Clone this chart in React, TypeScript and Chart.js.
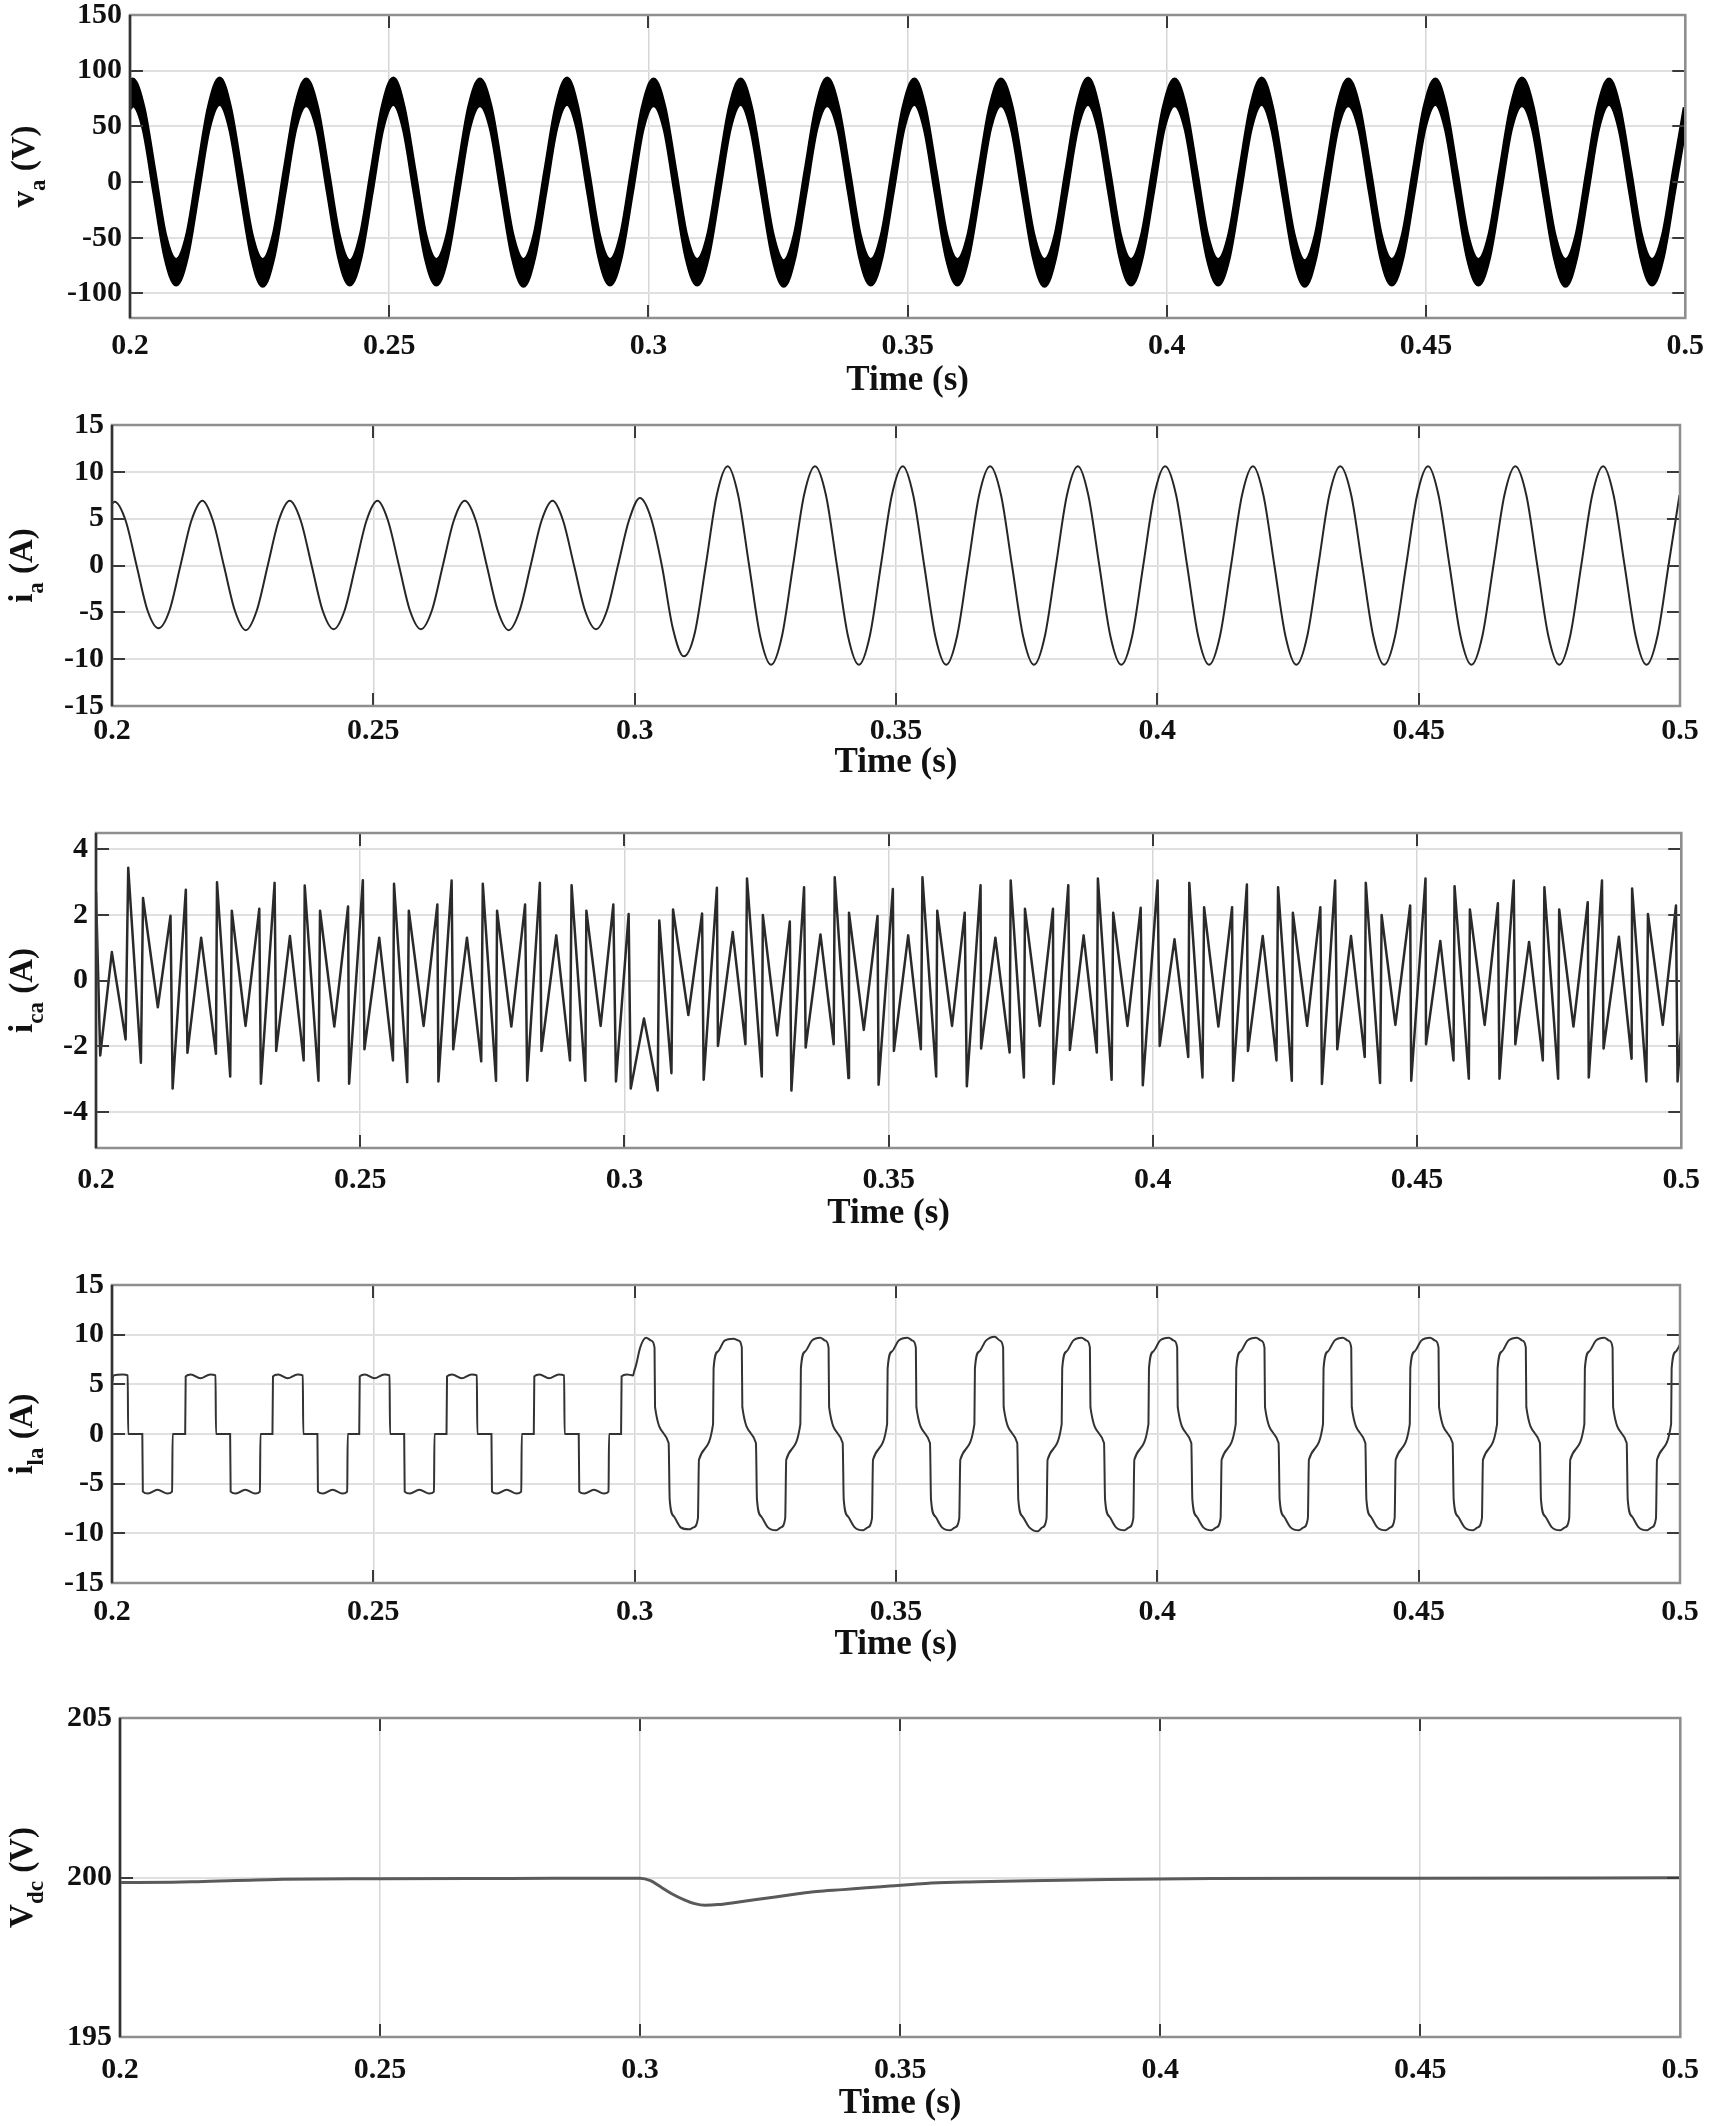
import React, { useEffect, useRef } from "react";
import { Chart, registerables } from "chart.js";

Chart.register(...registerables);

// ---------------- shared axis data ----------------
const X_TICKS = [0.2, 0.25, 0.3, 0.35, 0.4, 0.45, 0.5];
const X_TICK_LABELS = ["0.2", "0.25", "0.3", "0.35", "0.4", "0.45", "0.5"];
const X_TITLE = "Time (s)";

const VA_TICKS = [-100, -50, 0, 50, 100, 150];
const IA_TICKS = [-15, -10, -5, 0, 5, 10, 15];
const ICA_TICKS = [-4, -2, 0, 2, 4];
const ILA_TICKS = [-15, -10, -5, 0, 5, 10, 15];
const VDC_TICKS = [195, 200, 205];

// ---------------- v_a and i_a (common time samples, s) ----------------
const T_GRID = [0.2000,
  0.2005, 0.2026, 0.2047, 0.2068, 0.2089, 0.2110, 0.2131, 0.2152,
  0.2173, 0.2193, 0.2214, 0.2235, 0.2256, 0.2277, 0.2298, 0.2319,
  0.2340, 0.2361, 0.2382, 0.2403, 0.2424, 0.2445, 0.2466, 0.2487,
  0.2508, 0.2528, 0.2549, 0.2570, 0.2591, 0.2612, 0.2633, 0.2654,
  0.2675, 0.2696, 0.2717, 0.2738, 0.2759, 0.2780, 0.2801, 0.2822,
  0.2843, 0.2863, 0.2884, 0.2905, 0.2926, 0.2947, 0.2968, 0.2989,
  0.3010, 0.3031, 0.3052, 0.3073, 0.3094, 0.3115, 0.3136, 0.3157,
  0.3178, 0.3198, 0.3219, 0.3240, 0.3261, 0.3282, 0.3303, 0.3324,
  0.3345, 0.3366, 0.3387, 0.3408, 0.3429, 0.3450, 0.3471, 0.3492,
  0.3513, 0.3533, 0.3554, 0.3575, 0.3596, 0.3617, 0.3638, 0.3659,
  0.3680, 0.3701, 0.3722, 0.3743, 0.3764, 0.3785, 0.3806, 0.3827,
  0.3848, 0.3868, 0.3889, 0.3910, 0.3931, 0.3952, 0.3973, 0.3994,
  0.4015, 0.4036, 0.4057, 0.4078, 0.4099, 0.4120, 0.4141, 0.4162,
  0.4183, 0.4203, 0.4224, 0.4245, 0.4266, 0.4287, 0.4308, 0.4329,
  0.4350, 0.4371, 0.4392, 0.4413, 0.4434, 0.4455, 0.4476, 0.4497,
  0.4518, 0.4538, 0.4559, 0.4580, 0.4601, 0.4622, 0.4643, 0.4664,
  0.4685, 0.4706, 0.4727, 0.4748, 0.4769, 0.4790, 0.4811, 0.4832,
  0.4853, 0.4873, 0.4894, 0.4915, 0.4936, 0.4957, 0.4978, 0.4999];

// upper / lower edge of the noisy v_a band (V)
const VA_UPPER = [90,
  92, 67, 10, -48, -70, -48, 10, 67,
  93, 67, 10, -48, -70, -48, 10, 67,
  92, 67, 10, -48, -71, -48, 10, 67,
  93, 67, 10, -48, -70, -48, 10, 67,
  92, 67, 10, -48, -70, -48, 10, 67,
  93, 67, 10, -48, -70, -48, 10, 67,
  92, 67, 10, -48, -70, -48, 10, 67,
  92, 67, 10, -48, -71, -48, 10, 67,
  93, 67, 10, -48, -70, -48, 10, 67,
  92, 67, 10, -48, -70, -48, 10, 67,
  92, 67, 10, -48, -70, -48, 10, 67,
  93, 67, 10, -48, -70, -48, 10, 67,
  92, 67, 10, -48, -70, -48, 10, 67,
  93, 67, 10, -48, -71, -48, 10, 67,
  92, 67, 10, -48, -70, -48, 10, 67,
  92, 67, 10, -48, -70, -48, 10, 67,
  93, 67, 10, -48, -70, -48, 10, 67,
  92, 67, 10, -48, -70, -48, 10, 67];
const VA_LOWER = [66,
  69, 48, -10, -67, -92, -67, -10, 48,
  70, 48, -10, -67, -93, -67, -10, 48,
  69, 48, -10, -67, -92, -67, -10, 48,
  70, 48, -10, -67, -92, -67, -10, 48,
  69, 48, -10, -67, -93, -67, -10, 48,
  70, 48, -10, -67, -92, -67, -10, 48,
  69, 48, -10, -67, -92, -67, -10, 48,
  70, 48, -10, -67, -93, -67, -10, 48,
  69, 48, -10, -67, -92, -67, -10, 48,
  70, 48, -10, -67, -92, -67, -10, 48,
  69, 48, -10, -67, -93, -67, -10, 48,
  70, 48, -10, -67, -92, -67, -10, 48,
  69, 48, -10, -67, -92, -67, -10, 48,
  70, 48, -10, -67, -93, -67, -10, 48,
  69, 48, -10, -67, -92, -67, -10, 48,
  70, 48, -10, -67, -92, -67, -10, 48,
  69, 48, -10, -67, -93, -67, -10, 48,
  70, 48, -10, -67, -92, -67, -10, 48];

// source current i_a (A)
const IA_VALUES = [6.6,
  6.8, 4.8, 0, -4.8, -6.7, -4.8, 0, 4.8,
  6.9, 4.8, 0, -4.8, -6.9, -4.8, 0, 4.8,
  6.9, 4.8, 0, -4.8, -6.8, -4.8, 0, 4.8,
  6.9, 4.8, 0, -4.8, -6.8, -4.8, 0, 4.8,
  6.9, 4.8, 0, -4.8, -6.9, -4.8, 0, 4.8,
  6.9, 4.8, 0, -4.8, -6.8, -4.8, 0, 4.8,
  7.2, 5.1, 0, -6.7, -9.7, -7.2, 0, 7.5,
  10.6, 7.5, 0, -7.5, -10.6, -7.5, 0, 7.5,
  10.6, 7.5, 0, -7.5, -10.6, -7.5, 0, 7.5,
  10.6, 7.5, 0, -7.5, -10.6, -7.5, 0, 7.5,
  10.6, 7.5, 0, -7.5, -10.6, -7.5, 0, 7.5,
  10.6, 7.5, 0, -7.5, -10.6, -7.5, 0, 7.5,
  10.6, 7.5, 0, -7.5, -10.6, -7.5, 0, 7.5,
  10.6, 7.5, 0, -7.5, -10.6, -7.5, 0, 7.5,
  10.6, 7.5, 0, -7.5, -10.6, -7.5, 0, 7.5,
  10.6, 7.5, 0, -7.5, -10.6, -7.5, 0, 7.5,
  10.6, 7.5, 0, -7.5, -10.6, -7.5, 0, 7.5,
  10.6, 7.5, 0, -7.5, -10.6, -7.5, 0, 7.5];

// ---------------- compensator current i_ca: [time (s), current (A)] ----------------
const ICA_POINTS = [
  [0.2000, 2.7], [0.2008, -2.28], [0.2030, 0.87], [0.2056, -1.79], [0.2061, 3.44], [0.2085, -2.5], [0.2089, 2.52], [0.2117, -0.81], [0.2141, 1.98], [0.2145, -3.29],
  [0.2170, 2.77], [0.2173, -2.2], [0.2199, 1.31], [0.2227, -2.23], [0.2229, 3.0], [0.2254, -2.92], [0.2257, 2.13], [0.2283, -1.38], [0.2309, 2.19], [0.2312, -3.14],
  [0.2338, 2.98], [0.2341, -2.14], [0.2367, 1.36], [0.2393, -2.43], [0.2395, 2.9], [0.2421, -3.05], [0.2424, 2.13], [0.2451, -1.4], [0.2477, 2.26], [0.2479, -3.14],
  [0.2505, 3.06], [0.2508, -2.09], [0.2536, 1.31], [0.2562, -2.43], [0.2564, 2.95], [0.2589, -3.09], [0.2592, 2.13], [0.2620, -1.38], [0.2646, 2.32], [0.2648, -3.07],
  [0.2673, 3.05], [0.2676, -2.09], [0.2702, 1.31], [0.2729, -2.46], [0.2732, 2.95], [0.2757, -3.05], [0.2759, 2.13], [0.2786, -1.4], [0.2812, 2.32], [0.2816, -3.05],
  [0.2840, 2.98], [0.2843, -2.14], [0.2871, 1.38], [0.2897, -2.43], [0.2900, 2.91], [0.2926, -3.05], [0.2928, 2.13], [0.2955, -1.38], [0.2979, 2.32], [0.2984, -3.07],
  [0.3008, 2.03], [0.3012, -3.29], [0.3037, -1.15], [0.3063, -3.35], [0.3066, 1.83], [0.3089, -2.82], [0.3092, 2.17], [0.3121, -1.05], [0.3147, 2.05], [0.3150, -3.02],
  [0.3175, 2.83], [0.3177, -1.99], [0.3205, 1.48], [0.3229, -1.94], [0.3232, 3.11], [0.3260, -2.92], [0.3262, 2.0], [0.3289, -1.67], [0.3313, 1.8], [0.3316, -3.35],
  [0.3340, 2.85], [0.3343, -2.04], [0.3371, 1.41], [0.3396, -1.94], [0.3398, 3.15], [0.3424, -2.97], [0.3425, 2.07], [0.3453, -1.5], [0.3479, 1.97], [0.3481, -3.17],
  [0.3508, 2.79], [0.3510, -2.14], [0.3537, 1.38], [0.3561, -2.09], [0.3564, 3.15], [0.3590, -2.92], [0.3592, 2.13], [0.3620, -1.38], [0.3644, 2.07], [0.3648, -3.22],
  [0.3674, 2.91], [0.3675, -2.07], [0.3702, 1.31], [0.3729, -2.19], [0.3731, 3.05], [0.3756, -2.95], [0.3758, 2.19], [0.3786, -1.38], [0.3811, 2.19], [0.3812, -3.15],
  [0.3840, 2.91], [0.3843, -2.11], [0.3869, 1.38], [0.3894, -2.19], [0.3896, 3.11], [0.3922, -3.02], [0.3925, 2.07], [0.3952, -1.38], [0.3977, 2.22], [0.3981, -3.19],
  [0.4009, 3.05], [0.4013, -1.99], [0.4041, 1.26], [0.4067, -2.33], [0.4069, 2.98], [0.4094, -2.95], [0.4097, 2.24], [0.4124, -1.4], [0.4150, 2.24], [0.4152, -3.05],
  [0.4178, 2.93], [0.4180, -2.14], [0.4208, 1.36], [0.4234, -2.43], [0.4237, 2.85], [0.4263, -3.05], [0.4265, 2.07], [0.4292, -1.38], [0.4317, 2.24], [0.4320, -3.15],
  [0.4345, 3.05], [0.4349, -2.09], [0.4375, 1.36], [0.4401, -2.33], [0.4403, 2.98], [0.4430, -3.12], [0.4433, 2.0], [0.4459, -1.35], [0.4487, 2.29], [0.4489, -3.05],
  [0.4516, 3.11], [0.4517, -1.94], [0.4544, 1.21], [0.4569, -2.43], [0.4571, 2.88], [0.4598, -2.99], [0.4600, 2.17], [0.4628, -1.35], [0.4653, 2.36], [0.4656, -2.99],
  [0.4683, 3.05], [0.4686, -1.94], [0.4712, 1.18], [0.4738, -2.43], [0.4741, 2.85], [0.4767, -2.99], [0.4769, 2.17], [0.4796, -1.4], [0.4823, 2.39], [0.4825, -2.95],
  [0.4850, 3.05], [0.4853, -2.07], [0.4882, 1.34], [0.4906, -2.38], [0.4907, 2.81], [0.4934, -3.07], [0.4937, 2.03], [0.4965, -1.35], [0.4990, 2.29], [0.4993, -3.07],
  [0.5000, -1.5],
];

// ---------------- load current i_la: [time (s), current (A)] ----------------
const ILA_BEFORE = [
  [0.2000, 5.0], [0.2003, 5.9], [0.2021, 6.0], [0.2030, 5.9], [0.2031, 0], [0.2058, 0], [0.2059, -5.8], [0.2069, -6.0], [0.2087, -5.6], [0.2106, -6.0], [0.2115, -5.8], [0.2116, 0],
  [0.2140, 0], [0.2141, 5.8], [0.2151, 6.0], [0.2169, 5.6], [0.2188, 6.0], [0.2198, 5.9], [0.2199, 0], [0.2226, 0], [0.2227, -5.8], [0.2237, -6.0], [0.2255, -5.6], [0.2274, -6.0], [0.2283, -5.8], [0.2284, 0],
  [0.2307, 0], [0.2308, 5.8], [0.2318, 6.0], [0.2336, 5.6], [0.2355, 6.0], [0.2365, 5.9], [0.2366, 0], [0.2393, 0], [0.2394, -5.8], [0.2404, -6.0], [0.2422, -5.6], [0.2441, -6.0], [0.2450, -5.8], [0.2451, 0],
  [0.2473, 0], [0.2474, 5.8], [0.2484, 6.0], [0.2502, 5.6], [0.2521, 6.0], [0.2531, 5.9], [0.2532, 0], [0.2559, 0], [0.2560, -5.8], [0.2570, -6.0], [0.2588, -5.6], [0.2607, -6.0], [0.2616, -5.8], [0.2617, 0],
  [0.2640, 0], [0.2641, 5.8], [0.2651, 6.0], [0.2669, 5.6], [0.2688, 6.0], [0.2698, 5.9], [0.2699, 0], [0.2726, 0], [0.2727, -5.8], [0.2737, -6.0], [0.2755, -5.6], [0.2774, -6.0], [0.2783, -5.8], [0.2784, 0],
  [0.2807, 0], [0.2808, 5.8], [0.2818, 6.0], [0.2836, 5.6], [0.2855, 6.0], [0.2865, 5.9], [0.2866, 0], [0.2893, 0], [0.2894, -5.8], [0.2904, -6.0], [0.2922, -5.6], [0.2941, -6.0], [0.2950, -5.8], [0.2951, 0],
  [0.2974, 0], [0.2975, 5.8], [0.2985, 6.0], [0.2997, 5.9], [0.2999, 6.3], [0.3003, 7.0], [0.3010, 8.6], [0.3016, 9.4],
];
const ILA_AFTER = [
  [0.3022, 9.7], [0.3032, 9.4], [0.3038, 8.7], [0.3039, 2.7], [0.3065, -0.9], [0.3067, -6.6], [0.3075, -8.3], [0.3088, -9.4], [0.3104, -9.6], [0.3113, -9.4], [0.3121, -8.5], [0.3123, -2.6], [0.3150, 1.0], [0.3151, 6.6], [0.3159, 8.3], [0.3172, 9.4],
  [0.3189, 9.6], [0.3199, 9.4], [0.3205, 8.7], [0.3206, 2.7], [0.3232, -0.9], [0.3234, -6.6], [0.3242, -8.3], [0.3255, -9.4], [0.3271, -9.7], [0.3280, -9.4], [0.3288, -8.5], [0.3290, -2.6], [0.3317, 1.0], [0.3318, 6.6], [0.3326, 8.3], [0.3339, 9.4],
  [0.3355, 9.7], [0.3365, 9.4], [0.3371, 8.7], [0.3372, 2.7], [0.3398, -0.9], [0.3400, -6.6], [0.3408, -8.3], [0.3421, -9.4], [0.3437, -9.7], [0.3446, -9.4], [0.3454, -8.5], [0.3456, -2.6], [0.3483, 1.0], [0.3484, 6.6], [0.3492, 8.3], [0.3505, 9.4],
  [0.3522, 9.7], [0.3532, 9.4], [0.3538, 8.7], [0.3539, 2.7], [0.3565, -0.9], [0.3567, -6.6], [0.3575, -8.3], [0.3588, -9.4], [0.3604, -9.7], [0.3613, -9.4], [0.3621, -8.5], [0.3623, -2.6], [0.3650, 1.0], [0.3651, 6.6], [0.3659, 8.3], [0.3672, 9.4],
  [0.3689, 9.8], [0.3699, 9.4], [0.3705, 8.7], [0.3706, 2.7], [0.3732, -0.9], [0.3734, -6.6], [0.3742, -8.3], [0.3755, -9.4], [0.3771, -9.8], [0.3780, -9.4], [0.3788, -8.5], [0.3790, -2.6], [0.3817, 1.0], [0.3818, 6.6], [0.3826, 8.3], [0.3839, 9.4],
  [0.3855, 9.7], [0.3865, 9.4], [0.3871, 8.7], [0.3872, 2.7], [0.3898, -0.9], [0.3900, -6.6], [0.3908, -8.3], [0.3921, -9.4], [0.3937, -9.7], [0.3946, -9.4], [0.3954, -8.5], [0.3956, -2.6], [0.3983, 1.0], [0.3984, 6.6], [0.3992, 8.3], [0.4005, 9.4],
  [0.4022, 9.7], [0.4032, 9.4], [0.4038, 8.7], [0.4039, 2.7], [0.4065, -0.9], [0.4067, -6.6], [0.4075, -8.3], [0.4088, -9.4], [0.4104, -9.7], [0.4113, -9.4], [0.4121, -8.5], [0.4123, -2.6], [0.4150, 1.0], [0.4151, 6.6], [0.4159, 8.3], [0.4172, 9.4],
  [0.4189, 9.7], [0.4199, 9.4], [0.4205, 8.7], [0.4206, 2.7], [0.4232, -0.9], [0.4234, -6.6], [0.4242, -8.3], [0.4255, -9.4], [0.4271, -9.7], [0.4280, -9.4], [0.4288, -8.5], [0.4290, -2.6], [0.4317, 1.0], [0.4318, 6.6], [0.4326, 8.3], [0.4339, 9.4],
  [0.4355, 9.7], [0.4365, 9.4], [0.4371, 8.7], [0.4372, 2.7], [0.4398, -0.9], [0.4400, -6.6], [0.4408, -8.3], [0.4421, -9.4], [0.4437, -9.7], [0.4446, -9.4], [0.4454, -8.5], [0.4456, -2.6], [0.4483, 1.0], [0.4484, 6.6], [0.4492, 8.3], [0.4505, 9.4],
  [0.4522, 9.7], [0.4532, 9.4], [0.4538, 8.7], [0.4539, 2.7], [0.4565, -0.9], [0.4567, -6.6], [0.4575, -8.3], [0.4588, -9.4], [0.4604, -9.7], [0.4613, -9.4], [0.4621, -8.5], [0.4623, -2.6], [0.4650, 1.0], [0.4651, 6.6], [0.4659, 8.3], [0.4672, 9.4],
  [0.4689, 9.7], [0.4699, 9.4], [0.4705, 8.7], [0.4706, 2.7], [0.4732, -0.9], [0.4734, -6.6], [0.4742, -8.3], [0.4755, -9.4], [0.4771, -9.7], [0.4780, -9.4], [0.4788, -8.5], [0.4790, -2.6], [0.4817, 1.0], [0.4818, 6.6], [0.4826, 8.3], [0.4839, 9.4],
  [0.4855, 9.7], [0.4865, 9.4], [0.4871, 8.7], [0.4872, 2.7], [0.4898, -0.9], [0.4900, -6.6], [0.4908, -8.3], [0.4921, -9.4], [0.4937, -9.7], [0.4946, -9.4], [0.4954, -8.5], [0.4956, -2.6], [0.4983, 1.0], [0.4984, 6.6], [0.4992, 8.3], [0.5000, 9.0],
];

// ---------------- DC link voltage V_dc: [time (s), voltage (V)] ----------------
const VDC_POINTS = [
  [0.2000, 199.84], [0.2100, 199.85], [0.2150, 199.87], [0.2300, 199.94], [0.2500, 199.96], [0.2750, 199.97],
  [0.3000, 199.98], [0.3020, 199.90], [0.3040, 199.70], [0.3060, 199.50], [0.3085, 199.30], [0.3105, 199.18],
  [0.3125, 199.13], [0.3150, 199.15], [0.3180, 199.21], [0.3220, 199.30], [0.3260, 199.39], [0.3300, 199.48],
  [0.3340, 199.56], [0.3390, 199.62], [0.3435, 199.68], [0.3480, 199.73], [0.3515, 199.77], [0.3560, 199.83],
  [0.3650, 199.87], [0.3750, 199.90], [0.3900, 199.94], [0.4100, 199.97], [0.4500, 199.98], [0.5000, 199.99],
];

// ---------------- styling ----------------
const FONT = '"Liberation Serif", "Times New Roman", "DejaVu Serif", serif';
const PAGE_W = 1714;
const TICK_SIZE = 30;
const XTITLE_SIZE = 35;

type YTitle = { main: string; sub: string; unit: string };

const framePlugin = {
  id: "frame",
  afterDraw(chart: any, _args: any, opts: any) {
    const { ctx, chartArea: a, scales } = chart;
    const xs = scales.x;
    const ys = scales.y;
    ctx.save();
    // inward tick marks
    ctx.strokeStyle = "#3a3a3a";
    ctx.lineWidth = 2;
    const TL = 13;
    ctx.beginPath();
    for (const t of xs.ticks) {
      const px = Math.round(xs.getPixelForValue(t.value));
      ctx.moveTo(px, a.bottom);
      ctx.lineTo(px, a.bottom - TL);
      ctx.moveTo(px, a.top);
      ctx.lineTo(px, a.top + TL);
    }
    for (const t of ys.ticks) {
      const py = Math.round(ys.getPixelForValue(t.value));
      ctx.moveTo(a.left, py);
      ctx.lineTo(a.left + TL, py);
      ctx.moveTo(a.right, py);
      ctx.lineTo(a.right - TL, py);
    }
    ctx.stroke();
    // box
    ctx.strokeStyle = "#8e8e8e";
    ctx.lineWidth = 2.5;
    ctx.strokeRect(a.left, a.top, a.right - a.left, a.bottom - a.top);
    ctx.strokeStyle = "#333";
    ctx.beginPath();
    ctx.moveTo(a.left, a.top);
    ctx.lineTo(a.left, a.bottom);
    ctx.stroke();
    // rotated y title with subscript
    const yt: YTitle = opts.title;
    const mainFont = `bold 33px ${FONT}`;
    const subFont = `bold 23px ${FONT}`;
    ctx.translate(opts.titleX, (a.top + a.bottom) / 2);
    ctx.rotate(-Math.PI / 2);
    ctx.fillStyle = "#111";
    ctx.textAlign = "left";
    ctx.textBaseline = "alphabetic";
    ctx.font = mainFont;
    const wm = ctx.measureText(yt.main).width;
    const wu = ctx.measureText(yt.unit).width;
    ctx.font = subFont;
    const ws = ctx.measureText(yt.sub).width;
    const start = -(wm + ws + wu) / 2;
    ctx.font = mainFont;
    ctx.fillText(yt.main, start, 0);
    ctx.font = subFont;
    ctx.fillText(yt.sub, start + wm, 11);
    ctx.font = mainFont;
    ctx.fillText(yt.unit, start + wm + ws, 0);
    ctx.restore();
  },
};

type PanelProps = {
  plotTop: number;
  plotBottom: number;
  plotLeft: number;
  plotRight: number;
  timeY: number;
  tickPad: number;
  titleX: number;
  yMin: number;
  yMax: number;
  yTicks: number[];
  yTitle: YTitle;
  datasets: any[];
};

function Panel(p: PanelProps) {
  const ref = useRef<HTMLCanvasElement | null>(null);
  const padTop = 22;
  const canvasTop = p.plotTop - padTop;
  const canvasBottom = p.timeY + Math.round(XTITLE_SIZE * 0.6);
  const height = canvasBottom - canvasTop;
  const xAxisH = canvasBottom - p.plotBottom;

  useEffect(() => {
    if (!ref.current) return;
    const chart = new Chart(ref.current, {
      type: "line",
      data: { datasets: p.datasets },
      plugins: [framePlugin as any],
      options: {
        animation: false,
        responsive: false,
        devicePixelRatio: 1,
        layout: { padding: { top: padTop, right: PAGE_W - p.plotRight, left: 0, bottom: 0 } },
        elements: { point: { radius: 0 } },
        plugins: {
          legend: { display: false },
          tooltip: { enabled: false },
          frame: { title: p.yTitle, titleX: p.titleX },
        } as any,
        scales: {
          x: {
            type: "linear",
            min: 0.2,
            max: 0.5,
            afterBuildTicks: (s: any) => {
              s.ticks = X_TICKS.map((v) => ({ value: v }));
            },
            afterFit: (s: any) => {
              s.height = xAxisH;
            },
            ticks: {
              callback: (_v: any, i: number) => X_TICK_LABELS[i],
              font: { family: FONT, size: TICK_SIZE, weight: "bold" },
              color: "#111",
              padding: p.tickPad,
              maxRotation: 0,
              autoSkip: false,
            },
            grid: { color: "#d6d6d6", lineWidth: 1.5, drawTicks: false },
            border: { display: false },
            title: {
              display: true,
              text: X_TITLE,
              font: { family: FONT, size: XTITLE_SIZE, weight: "bold", lineHeight: 1.2 },
              color: "#111",
              padding: 0,
            },
          },
          y: {
            type: "linear",
            min: p.yMin,
            max: p.yMax,
            afterBuildTicks: (s: any) => {
              s.ticks = p.yTicks.map((v) => ({ value: v }));
            },
            afterFit: (s: any) => {
              s.width = p.plotLeft;
            },
            ticks: {
              callback: (v: any) => String(v),
              font: { family: FONT, size: TICK_SIZE, weight: "bold" },
              color: "#111",
              padding: 8,
            },
            grid: { color: "#e0e0e0", lineWidth: 2, drawTicks: false },
            border: { display: false },
          },
        },
      } as any,
    });
    return () => chart.destroy();
  }, []);

  return (
    <div style={{ position: "absolute", left: 0, top: canvasTop, width: PAGE_W, height }}>
      <canvas ref={ref} width={PAGE_W} height={height} style={{ width: PAGE_W, height, display: "block" }} />
    </div>
  );
}

const toXY = (pairs: number[][]) => pairs.map(([x, y]) => ({ x, y }));
const gridXY = (vals: number[]) => vals.map((y, i) => ({ x: T_GRID[i], y }));

export default function App() {
  const vaSets = [
    {
      data: gridXY(VA_UPPER),
      borderColor: "#000",
      borderWidth: 4,
      backgroundColor: "#000",
      fill: "+1",
      cubicInterpolationMode: "monotone",
      pointRadius: 0,
    },
    {
      data: gridXY(VA_LOWER),
      borderColor: "#000",
      borderWidth: 4,
      fill: false,
      cubicInterpolationMode: "monotone",
      pointRadius: 0,
    },
  ];
  const iaSets = [
    {
      data: gridXY(IA_VALUES),
      borderColor: "#262626",
      borderWidth: 2,
      fill: false,
      cubicInterpolationMode: "monotone",
      pointRadius: 0,
    },
  ];
  const icaSets = [
    {
      data: toXY(ICA_POINTS),
      borderColor: "#2a2a2a",
      borderWidth: 2.5,
      borderJoinStyle: "round",
      fill: false,
      tension: 0,
      pointRadius: 0,
    },
  ];
  const ilaSets = [
    {
      data: toXY([...ILA_BEFORE, ...ILA_AFTER]),
      borderColor: "#333",
      borderWidth: 2,
      fill: false,
      cubicInterpolationMode: "monotone",
      pointRadius: 0,
    },
  ];
  const vdcSets = [
    {
      data: toXY(VDC_POINTS),
      borderColor: "#5a5a5a",
      borderWidth: 3,
      fill: false,
      cubicInterpolationMode: "monotone",
      pointRadius: 0,
    },
  ];

  return (
    <div style={{ position: "absolute", left: 0, top: 0, width: PAGE_W, height: 2126, background: "#fff", overflow: "hidden" }}>
      <Panel plotTop={11} plotBottom={318} plotLeft={130} plotRight={1690} timeY={381} tickPad={10} titleX={34}
        yMin={-122} yMax={150} yTicks={VA_TICKS} yTitle={{ main: "v", sub: "a", unit: " (V)" }} datasets={vaSets} />
      <Panel plotTop={421} plotBottom={706} plotLeft={112} plotRight={1680} timeY={763} tickPad={7} titleX={32}
        yMin={-15} yMax={15} yTicks={IA_TICKS} yTitle={{ main: "i", sub: "a", unit: " (A)" }} datasets={iaSets} />
      <Panel plotTop={829} plotBottom={1148} plotLeft={96} plotRight={1690} timeY={1214} tickPad={14} titleX={32}
        yMin={-5.1} yMax={4.5} yTicks={ICA_TICKS} yTitle={{ main: "i", sub: "ca", unit: " (A)" }} datasets={icaSets} />
      <Panel plotTop={1281} plotBottom={1583} plotLeft={112} plotRight={1680} timeY={1645} tickPad={11} titleX={32}
        yMin={-15} yMax={15} yTicks={ILA_TICKS} yTitle={{ main: "i", sub: "la", unit: " (A)" }} datasets={ilaSets} />
      <Panel plotTop={1714} plotBottom={2037} plotLeft={120} plotRight={1690} timeY={2104} tickPad={15} titleX={32}
        yMin={195} yMax={205} yTicks={VDC_TICKS} yTitle={{ main: "V", sub: "dc", unit: " (V)" }} datasets={vdcSets} />
    </div>
  );
}
